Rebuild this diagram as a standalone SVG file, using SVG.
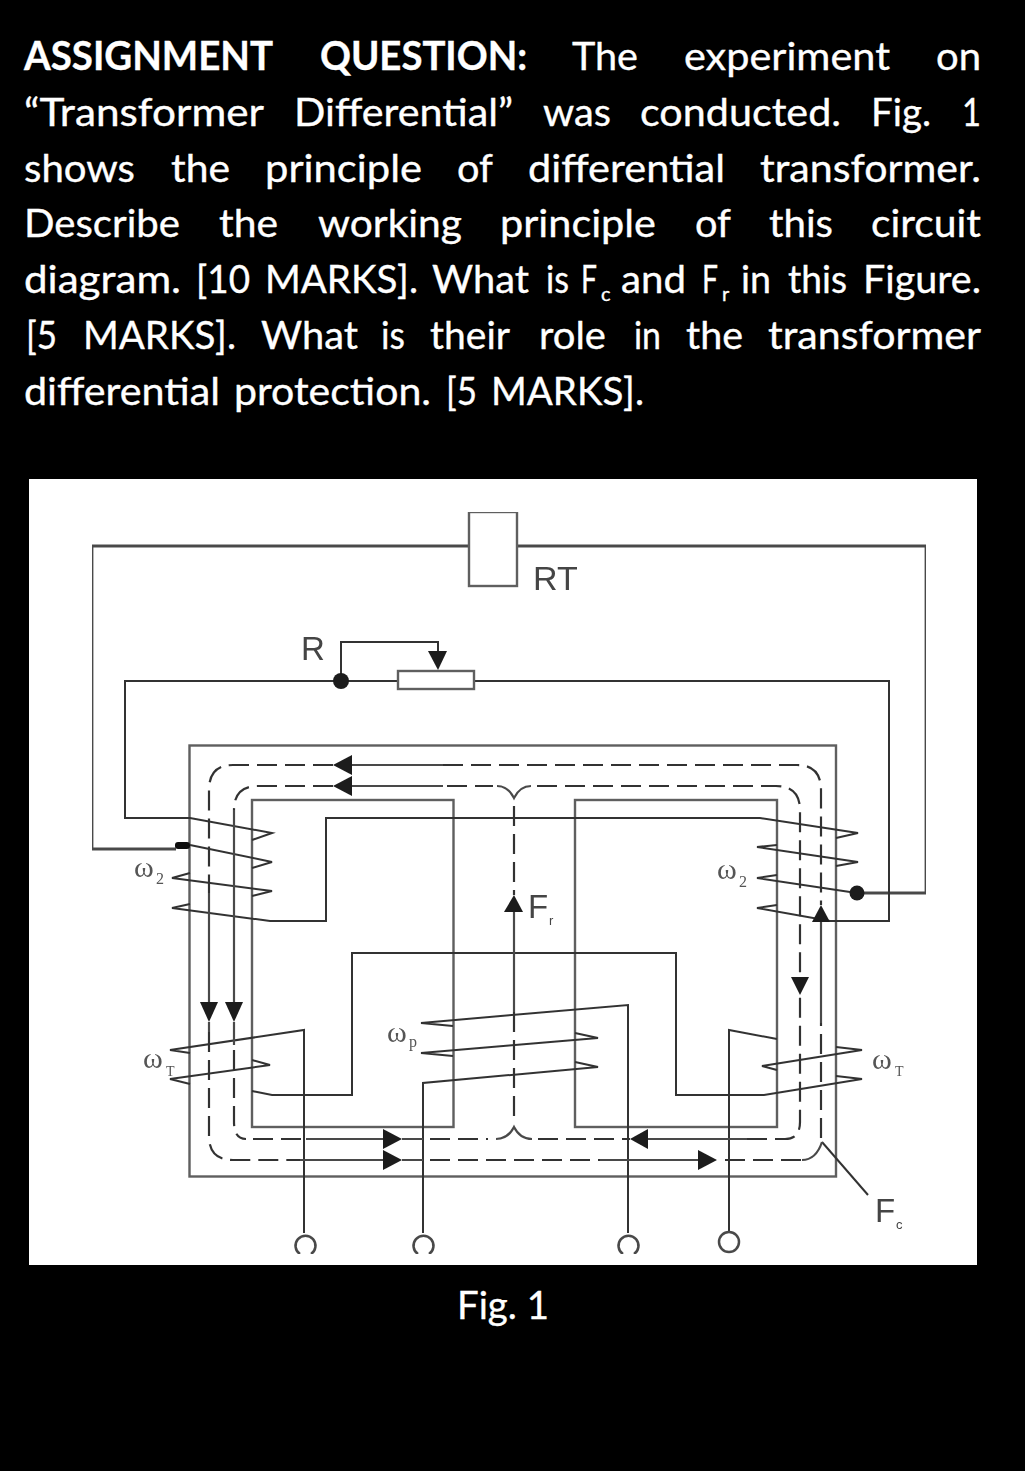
<svg xmlns="http://www.w3.org/2000/svg" width="1025" height="1471" viewBox="0 0 1025 1471">
<defs><filter id="soft" x="0" y="0" width="100%" height="100%"><feGaussianBlur stdDeviation="0.45"/></filter></defs>
<style>
.t{font-family:"Lato","Carlito","Liberation Sans",sans-serif;font-size:39.5px;fill:#fff;stroke:#fff;stroke-width:.35}
.b{font-weight:700}
.s{font-size:20px}
.l,.c,.d,.w{fill:none;stroke:#4a4a4a;stroke-linejoin:miter}
.c{stroke:#5e5e5e;stroke-width:2.4}
.l{stroke-width:2.2}
.o{stroke:#4a4a4a;stroke-width:2.8}
.w{stroke:#333;stroke-width:2}
.d{stroke:#333;stroke-width:2.2;stroke-dasharray:20 8}
.a{fill:#1c1c1c}
.lb{font-family:"Liberation Sans",Arial,sans-serif;fill:#444}
.om{font-family:"Liberation Serif","Times New Roman",serif;fill:#555}
</style>
<rect width="1025" height="1471" fill="#000"/>
<g id="question">
<text class="t b" x="24" y="70" textLength="249" lengthAdjust="spacingAndGlyphs">ASSIGNMENT</text>
<text class="t b" x="320" y="70" textLength="207" lengthAdjust="spacingAndGlyphs">QUESTION:</text>
<text class="t" x="572" y="70" textLength="66" lengthAdjust="spacingAndGlyphs">The</text>
<text class="t" x="684" y="70" textLength="206" lengthAdjust="spacingAndGlyphs">experiment</text>
<text class="t" x="936" y="70" textLength="45" lengthAdjust="spacingAndGlyphs">on</text>
<text class="t" x="24" y="125.500" textLength="240" lengthAdjust="spacingAndGlyphs">“Transformer</text>
<text class="t" x="294" y="125.500" textLength="219" lengthAdjust="spacingAndGlyphs">Differential”</text>
<text class="t" x="543" y="125.500" textLength="68" lengthAdjust="spacingAndGlyphs">was</text>
<text class="t" x="640" y="125.500" textLength="201" lengthAdjust="spacingAndGlyphs">conducted.</text>
<text class="t" x="871" y="125.500" textLength="60" lengthAdjust="spacingAndGlyphs">Fig.</text>
<text class="t" x="962" y="125.500" textLength="19" lengthAdjust="spacingAndGlyphs">1</text>
<text class="t" x="24" y="181.500" textLength="111" lengthAdjust="spacingAndGlyphs">shows</text>
<text class="t" x="171" y="181.500" textLength="59" lengthAdjust="spacingAndGlyphs">the</text>
<text class="t" x="265" y="181.500" textLength="157" lengthAdjust="spacingAndGlyphs">principle</text>
<text class="t" x="457" y="181.500" textLength="36" lengthAdjust="spacingAndGlyphs">of</text>
<text class="t" x="528" y="181.500" textLength="197" lengthAdjust="spacingAndGlyphs">differential</text>
<text class="t" x="760" y="181.500" textLength="221" lengthAdjust="spacingAndGlyphs">transformer.</text>
<text class="t" x="24" y="237" textLength="156" lengthAdjust="spacingAndGlyphs">Describe</text>
<text class="t" x="219" y="237" textLength="59" lengthAdjust="spacingAndGlyphs">the</text>
<text class="t" x="318" y="237" textLength="144" lengthAdjust="spacingAndGlyphs">working</text>
<text class="t" x="500" y="237" textLength="156" lengthAdjust="spacingAndGlyphs">principle</text>
<text class="t" x="695" y="237" textLength="36" lengthAdjust="spacingAndGlyphs">of</text>
<text class="t" x="769" y="237" textLength="64" lengthAdjust="spacingAndGlyphs">this</text>
<text class="t" x="871" y="237" textLength="110" lengthAdjust="spacingAndGlyphs">circuit</text>
<text class="t" x="24" y="293" textLength="157" lengthAdjust="spacingAndGlyphs">diagram.</text>
<text class="t" x="196" y="293" textLength="54" lengthAdjust="spacingAndGlyphs">[10</text>
<text class="t" x="265" y="293" textLength="153" lengthAdjust="spacingAndGlyphs">MARKS].</text>
<text class="t" x="432" y="293" textLength="97" lengthAdjust="spacingAndGlyphs">What</text>
<text class="t" x="546" y="293" textLength="23" lengthAdjust="spacingAndGlyphs">is</text>
<text class="t" x="581" y="293" textLength="16" lengthAdjust="spacingAndGlyphs">F</text>
<text class="t s" x="601" y="301">c</text>
<text class="t" x="621" y="293" textLength="65" lengthAdjust="spacingAndGlyphs">and</text>
<text class="t" x="702" y="293" textLength="16" lengthAdjust="spacingAndGlyphs">F</text>
<text class="t s" x="722" y="301">r</text>
<text class="t" x="741" y="293" textLength="30" lengthAdjust="spacingAndGlyphs">in</text>
<text class="t" x="788" y="293" textLength="59" lengthAdjust="spacingAndGlyphs">this</text>
<text class="t" x="863" y="293" textLength="118" lengthAdjust="spacingAndGlyphs">Figure.</text>
<text class="t" x="26" y="348.500" textLength="31" lengthAdjust="spacingAndGlyphs">[5</text>
<text class="t" x="83" y="348.500" textLength="153" lengthAdjust="spacingAndGlyphs">MARKS].</text>
<text class="t" x="261" y="348.500" textLength="97" lengthAdjust="spacingAndGlyphs">What</text>
<text class="t" x="381" y="348.500" textLength="24" lengthAdjust="spacingAndGlyphs">is</text>
<text class="t" x="430" y="348.500" textLength="80" lengthAdjust="spacingAndGlyphs">their</text>
<text class="t" x="539" y="348.500" textLength="67" lengthAdjust="spacingAndGlyphs">role</text>
<text class="t" x="634" y="348.500" textLength="27" lengthAdjust="spacingAndGlyphs">in</text>
<text class="t" x="686" y="348.500" textLength="57" lengthAdjust="spacingAndGlyphs">the</text>
<text class="t" x="768" y="348.500" textLength="213" lengthAdjust="spacingAndGlyphs">transformer</text>
<text class="t" x="24" y="404.500" textLength="196" lengthAdjust="spacingAndGlyphs">differential</text>
<text class="t" x="234" y="404.500" textLength="197" lengthAdjust="spacingAndGlyphs">protection.</text>
<text class="t" x="446" y="404.500" textLength="31" lengthAdjust="spacingAndGlyphs">[5</text>
<text class="t" x="491" y="404.500" textLength="153" lengthAdjust="spacingAndGlyphs">MARKS].</text>
</g>
<rect x="29" y="479" width="948" height="786" fill="#fff"/>
<g id="figure" filter="url(#soft)">
<g id="core">
<rect class="c" x="189.500" y="745.500" width="646.500" height="431"/>
<rect class="c" x="252" y="800" width="201.500" height="327"/>
<rect class="c" x="575" y="800" width="202" height="327"/>
</g>
<g id="connectors">
<path class="l o" d="M469 546H92V849H176"/>
<path class="l o" d="M517 546H926V893H857"/>
<path class="w" d="M398 681H125V818H190L272 833L252 840"/>
<path class="w" d="M474 681H889V921H830L757 908L777 905"/>
<path class="w" d="M341 681V642H438V654"/>
<path class="w" d="M190 845L272 862L252 868"/>
<path class="w" d="M190 873L172 878L272 891L252 896"/>
<path class="w" d="M190 904L172 908L270 921H326V818H760L858 833L836 838"/>
<path class="w" d="M777 845L757 847L858 862L836 866"/>
<path class="w" d="M777 875L757 878L850 892"/>
<path class="w" d="M304 1233V1030L170 1050L190 1053"/>
<path class="w" d="M252 1060L270 1065L170 1079L190 1084"/>
<path class="w" d="M252 1091L272 1095H352V953H676V1095H764L862 1079L836 1076"/>
<path class="w" d="M836 1047L862 1050L762 1066L777 1070"/>
<path class="w" d="M777 1039L729 1030V1233"/>
<path class="w" d="M423 1233V1083L598 1067L575 1062"/>
<path class="w" d="M575 1033L598 1038L421 1053L453 1056"/>
<path class="w" d="M453 1026L421 1023L628 1005V1233"/>
<path class="w" d="M822 1142L868 1195"/>
<path class="d" d="M333 765H233Q209 765 209 790V893"/>
<path class="l" d="M209 893V1002"/>
<path class="l" d="M352 765H443"/>
<path class="d" d="M443 765H797Q821 765 821 790V905"/>
<path class="d" d="M333 786H258Q234 786 234 810"/>
<path class="l" d="M234 810V1002M234 1022V1045M352 786H443"/>
<path class="d" d="M447 786H493"/>
<path class="l" d="M497 786Q508 786 514 798Q520 786 531 786"/>
<path class="d" d="M537 786H776Q800 786 800 810V977"/>
<path class="d" d="M514 806V895"/>
<path class="l" d="M514 912V1012"/>
<path class="d" d="M514 1012V1124"/>
<path class="d" d="M209 1032V1136Q209 1160 233 1160H300"/>
<path class="l" d="M209 1022V1032M300 1160H383M402 1160H423"/>
<path class="d" d="M430 1160H600"/>
<path class="l" d="M600 1160H698"/>
<path class="d" d="M725 1160H802"/>
<path class="l" d="M802 1160Q816 1160 822 1142"/>
<path class="d" d="M821 1138V1023"/>
<path class="l" d="M821 922V1023"/>
<path class="d" d="M234 1050V1122Q234 1139 246 1139M253 1139H306"/>
<path class="l" d="M306 1139H383M402 1139H423M648 1139H747"/>
<path class="d" d="M430 1139H488"/>
<path class="l" d="M496 1139Q508 1139 514 1127Q520 1139 532 1139"/>
<path class="d" d="M538 1139H630"/>
<path class="d" d="M747 1139H785Q800 1139 800 1122V993"/>
</g>
<g id="arrowheads" class="a">
<path d="M333 765L352 755V775Z"/>
<path d="M333 786L352 776V796Z"/>
<path d="M209 1022L200 1002H218Z"/>
<path d="M234 1022L225 1002H243Z"/>
<path d="M402 1139L383 1129V1149Z"/>
<path d="M402 1160L383 1150V1170Z"/>
<path d="M717 1160L698 1150V1170Z"/>
<path d="M630 1139L648 1129V1149Z"/>
<path d="M514 895L504 912H523Z"/>
<path d="M821 905L812 922H830Z"/>
<path d="M800 995L791 977H809Z"/>
</g>
<g id="RT">
<rect class="c" x="469" y="512" width="48" height="74"/>
<text class="lb" x="533" y="590" font-size="34">RT</text>
</g>
<g id="R">
<rect class="c" x="398" y="671" width="76" height="18"/>
<circle cx="341" cy="681" r="8" fill="#1c1c1c"/>
<path class="a" d="M438 670L428 651H447Z"/>
<text class="lb" x="301" y="660" font-size="33">R</text>
</g>
<g id="w2-left">
<rect x="175" y="842" width="15" height="7" rx="3" fill="#111"/>
<text class="om" x="134" y="877" font-size="30">ω</text><text class="om" x="156" y="884" font-size="16">2</text>
</g>
<g id="w2-right">
<circle cx="857" cy="893" r="7.500" fill="#1c1c1c"/>
<text class="om" x="717" y="879" font-size="30">ω</text><text class="om" x="739" y="887" font-size="16">2</text>
</g>
<g id="wT-left"><text class="om" x="143" y="1068" font-size="30">ω</text><text class="om" x="166" y="1076" font-size="14">T</text></g>
<g id="wT-right"><text class="om" x="872" y="1069" font-size="30">ω</text><text class="om" x="895" y="1076" font-size="14">T</text></g>
<g id="wp"><text class="om" x="387" y="1042" font-size="30">ω</text><text class="om" x="409" y="1047" font-size="16">p</text></g>
<g id="Fr"><text class="lb" x="528" y="918" font-size="33">F</text><text class="lb" x="549" y="925" font-size="13">r</text></g>
<g id="Fc"><text class="lb" x="875" y="1222" font-size="33">F</text><text class="lb" x="896" y="1229" font-size="13">c</text></g>
<g id="terminals" fill="none" stroke="#4a4a4a" stroke-width="2.500">
<path id="t1" d="M300 1254A10 10 0 1 1 311 1254"/>
<path id="t2" d="M418 1254A10 10 0 1 1 429 1254"/>
<path id="t3" d="M623 1254A10 10 0 1 1 634 1254"/>
<circle id="t4" cx="729" cy="1242" r="10"/>
</g>
</g>
<g id="caption"><text class="t" x="457" y="1319" textLength="92" lengthAdjust="spacingAndGlyphs">Fig. 1</text></g>
</svg>
